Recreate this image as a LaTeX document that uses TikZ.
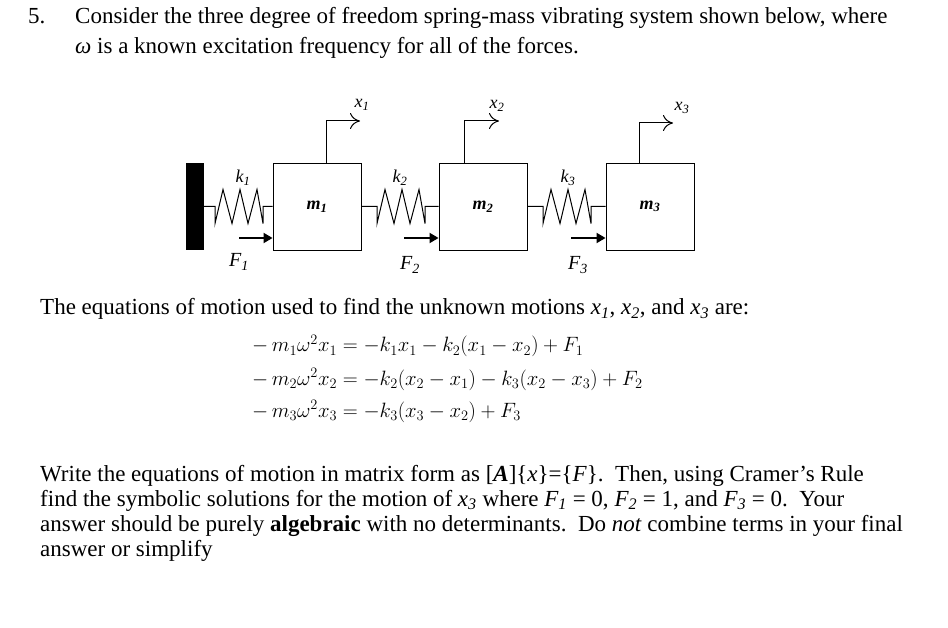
\documentclass[tikz,border=0pt]{standalone}
\usepackage{fontspec}
\setmainfont{Liberation Serif}
\usetikzlibrary{arrows.meta}
\begin{document}
\begin{tikzpicture}[x=1pt,y=-1pt,
  txt/.style={anchor=base west,inner sep=0pt,font=\fontsize{23}{26}\selectfont},
  lbl/.style={inner sep=0pt,font=\fontsize{18}{20}\selectfont\itshape},
  mass/.style={draw,line width=0.9pt,minimum width=88pt,minimum height=87pt,inner sep=0pt,font=\fontsize{18}{20}\selectfont\bfseries\itshape},
  wire/.style={line width=1pt},
  disp/.style={line width=1pt,-{To[length=10pt,width=16pt]}},
  force/.style={line width=2pt,-{Triangle[length=9pt,width=10pt]}}]
\useasboundingbox (0,0) rectangle (948,628);
% header
\node[txt] (n5) at (28,24) {5.};
\node[txt] (h1) at (75,24) {Consider the three degree of freedom spring-mass vibrating system shown below, where};
\node[txt] (h2) at (75,54) {\textit{ω} is a known excitation frequency for all of the forces.};
% wall and masses
\node[fill=black,minimum width=18pt,minimum height=87pt,inner sep=0pt] (wall) at (195,206.5) {};
\node[mass] (m1) at (317,206.5) {m\textsubscript{1}};
\node[mass] (m2) at (483,206.5) {m\textsubscript{2}};
\node[mass] (m3) at (650,206.5) {m\textsubscript{3}};
% springs
\newcommand{\zig}[1]{-- ++(0,17) -- ++(8,-34) -- ++(9,34) -- ++(8,-34) -- ++(8,34) -- ++(9,-34) -- ++(6,34) -- ++(0,-17)}
\draw[wire] (wall.east) -- (215,206.5) \zig{} -- (m1.west);
\draw[wire] (m1.east) -- (377,206.5) \zig{} -- (m2.west);
\draw[wire] (m2.east) -- (543,206.5) \zig{} -- (m3.west);
\node[lbl] (k1) at (243,178) {k\textsubscript{\itshape 1}};
\node[lbl] (k2) at (400,178) {k\textsubscript{\itshape 2}};
\node[lbl] (k3) at (568,178) {k\textsubscript{\itshape 3}};
% displacement arrows
\coordinate (d1) at (360,121);
\coordinate (d2) at (499,121);
\coordinate (d3) at (673,123);
\draw[disp] (326,163) -- (326,121) -- (d1);
\draw[disp] (464,163) -- (464,121) -- (d2);
\draw[disp] (639,163) -- (639,123) -- (d3);
\node[lbl] (x1) at (362,105) {x\textsubscript{\itshape 1}};
\node[lbl] (x2) at (497,106) {x\textsubscript{\itshape 2}};
\node[lbl] (x3) at (682,108) {x\textsubscript{\itshape 3}};
% forces
\coordinate (f1) at (239,238); \coordinate (f2) at (404,238); \coordinate (f3) at (571,238);
\draw[force] (f1) -- (m1.west |- f1);
\draw[force] (f2) -- (m2.west |- f2);
\draw[force] (f3) -- (m3.west |- f3);
\node[lbl,font=\fontsize{20}{22}\selectfont\itshape] (F1) at (239,262) {F\textsubscript{\itshape 1}};
\node[lbl,font=\fontsize{20}{22}\selectfont\itshape] (F2) at (410,265) {F\textsubscript{\itshape 2}};
\node[lbl,font=\fontsize{20}{22}\selectfont\itshape] (F3) at (578,265) {F\textsubscript{\itshape 3}};
% text
\node[txt] (p1) at (40,315) {The equations of motion used to find the unknown motions \textit{x\textsubscript{1}}, \textit{x\textsubscript{2}}, and \textit{x\textsubscript{3}} are:};
\node[txt,font=\fontsize{21}{24}\selectfont] (e1) at (252,352) {$-\,m_1\omega^2x_1 = -k_1x_1 - k_2(x_1-x_2) + F_1$};
\node[txt,font=\fontsize{21}{24}\selectfont] (e2) at (252,385) {$-\,m_2\omega^2x_2 = -k_2(x_2-x_1) - k_3(x_2-x_3) + F_2$};
\node[txt,font=\fontsize{21}{24}\selectfont] (e3) at (252,417) {$-\,m_3\omega^2x_3 = -k_3(x_3-x_2) + F_3$};
\node[txt] (w1) at (40,481) {Write the equations of motion in matrix form as [\textbf{\textit{A}}]\{\textit{x}\}=\{\textit{F}\}.\ \ Then, using Cramer’s Rule};
\node[txt] (w2) at (40,506) {find the symbolic solutions for the motion of \textit{x\textsubscript{3}} where \textit{F\textsubscript{1}} = 0, \textit{F\textsubscript{2}} = 1, and \textit{F\textsubscript{3}} = 0.\ \ Your};
\node[txt] (w3) at (40,531) {answer should be purely \textbf{algebraic} with no determinants.\ \ Do \textit{not} combine terms in your final};
\node[txt] (w4) at (40,556) {answer or simplify};
\end{tikzpicture}
\end{document}
